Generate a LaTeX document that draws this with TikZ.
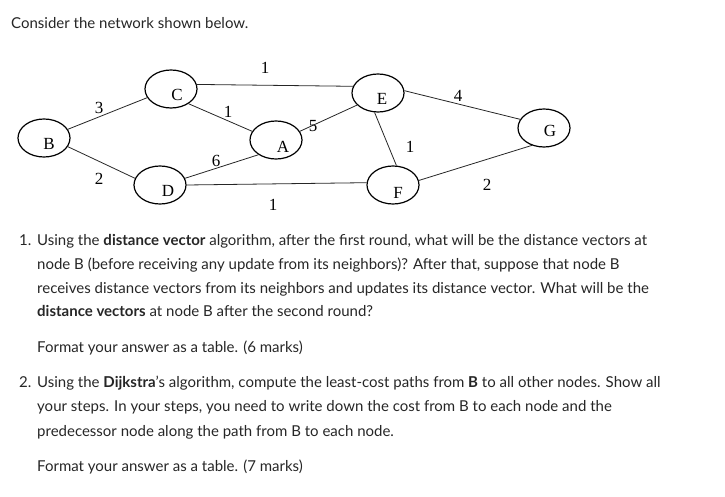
\documentclass[tikz,border=0pt]{standalone}
\usepackage{fontspec}
\setmainfont{Lato}
\newfontfamily\tnr{Liberation Serif}
\usetikzlibrary{shapes.geometric}
\begin{document}
\begin{tikzpicture}[x=1pt,y=-1pt,
  nd/.style={draw,ellipse,line width=1.2pt,minimum width=52pt,minimum height=38pt,inner sep=0pt},
  lb/.style={font=\tnr\fontsize{17}{17}\selectfont,inner sep=0pt},
  el/.style={font=\tnr\fontsize{17}{17}\selectfont,inner sep=0pt},
  ln/.style={black!85,line width=0.8pt},
  tx/.style={anchor=base west,inner sep=0pt,font=\fontsize{15}{18}\selectfont,text=black!85}]
\useasboundingbox (0,0) rectangle (725,497);
\node[nd] (B) at (44,138) {};
\node[nd] (C) at (171,89) {};
\node[nd] (A) at (276,140) {};
\node[nd] (D) at (160,185) {};
\node[nd] (E) at (378,93) {};
\node[nd] (F) at (393,185) {};
\node[nd] (G) at (544,128) {};
\node[lb] (lB) at (49,144) {B};
\node[lb] (lC) at (177,95) {C};
\node[lb] (lA) at (283,147) {A};
\node[lb] (lD) at (168,191) {D};
\node[lb] (lE) at (382,99) {E};
\node[lb] (lF) at (398,193) {F};
\node[lb] (lG) at (550,131) {G};
\draw[ln] (C.10) -- (E.165);
\draw[ln] (B.20) -- (C.200);
\draw[ln] (B.-20) -- (D.165);
\draw[ln] (C.-40) -- (A.160);
\draw[ln] (D.15) -- (A.220);
\draw[ln] (D.0) -- (F.175);
\draw[ln] (A.20) -- (E.210);
\draw[ln] (E.260) -- (F.80);
\draw[ln] (E.5) -- (G.160);
\draw[ln] (F.10) -- (G.235);
\node[el] (w1) at (265,68) {1};
\node[el] (w2) at (99,108) {3};
\node[el] (w3) at (99,179) {2};
\node[el] (w4) at (228,112) {1};
\node[el] (w5) at (313,126) {5};
\node[el] (w6) at (216,161) {6};
\node[el] (w7) at (273,205) {1};
\node[el] (w8) at (410,147) {1};
\node[el] (w9) at (458,96) {4};
\node[el] (w10) at (487,185) {2};
\node[tx] (t0) at (11,29) {Consider the network shown below.};
\node[tx] (n1) at (19,245) {1.};
\node[tx] (t1) at (37,245) {Using the \textbf{distance vector} algorithm, after the first round, what will be the distance vectors at};
\node[tx] (t2) at (37,269) {node B (before receiving any update from its neighbors)? After that, suppose that node B};
\node[tx] (t3) at (37,293) {receives distance vectors from its neighbors and updates its distance vector. What will be the};
\node[tx] (t4) at (37,316) {\textbf{distance vectors} at node B after the second round?};
\node[tx] (t5) at (37,352) {Format your answer as a table. (6 marks)};
\node[tx] (n2) at (19,387) {2.};
\node[tx] (t6) at (37,387) {Using the \textbf{Dijkstra}'s algorithm, compute the least-cost paths from \textbf{B} to all other nodes. Show all};
\node[tx] (t7) at (37,411) {your steps. In your steps, you need to write down the cost from B to each node and the};
\node[tx] (t8) at (37,436) {predecessor node along the path from B to each node.};
\node[tx] (t9) at (37,471) {Format your answer as a table. (7 marks)};
\end{tikzpicture}
\end{document}
